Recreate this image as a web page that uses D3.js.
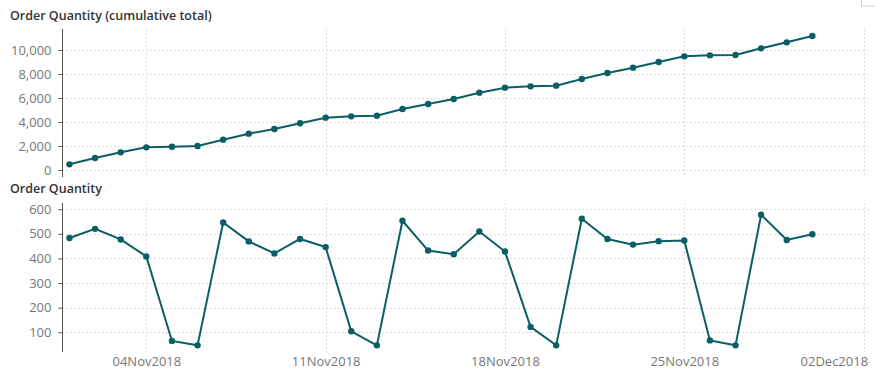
<!DOCTYPE html>
<html>
<head>
<meta charset="utf-8">
<script src="https://cdn.jsdelivr.net/npm/d3@7"></script>
<style>
  body { margin: 0; background: #fff; }
  text { font-family: "Open Sans", "Noto Sans", sans-serif; }
</style>
</head>
<body>
<div id="container"></div>
<script>
/* DATA */
const days = d3.range(1, 31).map(d => new Date(2018, 10, d));
const orderQty = [483, 520, 477, 408, 65, 47, 546, 469, 420, 479,
  446, 104, 47, 553, 432, 417, 509, 428, 122, 47,
  561, 479, 456, 470, 473, 67, 47, 577, 475, 498];
const cumulative = [472, 1000, 1472, 1889, 1944, 2000, 2528, 3028, 3417, 3900,
  4361, 4472, 4528, 5083, 5500, 5917, 6444, 6861, 6972, 7028,
  7583, 8083, 8528, 9000, 9472, 9556, 9583, 10139, 10639, 11167];
const tickDates = [new Date(2018, 10, 4), new Date(2018, 10, 11), new Date(2018, 10, 18),
  new Date(2018, 10, 25), new Date(2018, 11, 2)];
const topTicks = [0, 2000, 4000, 6000, 8000, 10000];
const bottomTicks = [100, 200, 300, 400, 500, 600];

/* CONSTANTS */
const width = 875;
const height = 376;
const left = 62;
const right = 870;
const lineColor = "#0b5e64";

const svg = d3.select("#container").append("svg")
  .attr("width", width)
  .attr("height", height);

const xScale = d3.scaleTime()
  .domain([new Date(2018, 9, 31, 17), new Date(2018, 11, 2, 6)])
  .range([left, right]);

// little box in top-right corner
svg.append("rect")
  .attr("x", 861.5).attr("y", -1).attr("width", 14).attr("height", 7)
  .attr("fill", "none").attr("stroke", "#d0d0d0");

function panel(title, titleY, values, yScale, ticks, top, bottom, showDates) {
  const g = svg.append("g");

  g.append("text")
    .attr("x", 10).attr("y", titleY)
    .attr("fill", "#333")
    .attr("font-size", 12.5)
    .attr("font-weight", 600)
    .text(title);

  // horizontal grid
  g.selectAll("line.hgrid")
    .data(ticks)
    .join("line")
    .attr("class", "hgrid")
    .attr("x1", left).attr("x2", right)
    .attr("y1", d => Math.round(yScale(d)) + 0.5)
    .attr("y2", d => Math.round(yScale(d)) + 0.5)
    .attr("stroke", "#dcdcdc")
    .attr("stroke-dasharray", "2,2");

  // vertical grid
  g.selectAll("line.vgrid")
    .data(tickDates)
    .join("line")
    .attr("class", "vgrid")
    .attr("x1", d => Math.round(xScale(d)) + 0.5)
    .attr("x2", d => Math.round(xScale(d)) + 0.5)
    .attr("y1", top).attr("y2", bottom)
    .attr("stroke", "#dcdcdc")
    .attr("stroke-dasharray", "2,2");

  const yAxis = d3.axisLeft(yScale)
    .tickValues(ticks)
    .tickSize(4)
    .tickPadding(7)
    .tickFormat(d3.format(","));

  const ax = g.append("g")
    .attr("transform", `translate(${left + 0.5},0)`)
    .call(yAxis);
  ax.select(".domain").remove();
  ax.selectAll("line").attr("stroke", "#555");
  ax.selectAll("text")
    .attr("fill", "#777")
    .attr("font-size", 13)
    .style("font-family", "'Open Sans', sans-serif");
  g.append("line")
    .attr("x1", left + 0.5).attr("x2", left + 0.5)
    .attr("y1", top).attr("y2", bottom)
    .attr("stroke", "#555");

  if (showDates) {
    const xAxis = d3.axisBottom(xScale)
      .tickValues(tickDates)
      .tickSize(0)
      .tickPadding(5)
      .tickFormat(d3.timeFormat("%d%b%Y"));
    const xa = g.append("g")
      .attr("transform", `translate(0,${bottom})`)
      .call(xAxis);
    xa.select(".domain").remove();
    xa.selectAll("text")
      .attr("fill", "#777")
      .attr("font-size", 13)
      .style("font-family", "'Open Sans', sans-serif");
    // keep the last label inside the plot
    xa.selectAll(".tick:last-of-type text")
      .attr("text-anchor", "end")
      .attr("x", 4);
  }

  const line = d3.line()
    .x((d, i) => xScale(days[i]))
    .y(d => yScale(d));

  g.append("path")
    .datum(values)
    .attr("d", line)
    .attr("fill", "none")
    .attr("stroke", lineColor)
    .attr("stroke-width", 2);

  g.selectAll("circle")
    .data(values)
    .join("circle")
    .attr("cx", (d, i) => xScale(days[i]))
    .attr("cy", d => yScale(d))
    .attr("r", 3.2)
    .attr("fill", lineColor);
}

const yTop = d3.scaleLinear().domain([-583, 11750]).range([177, 29]);
const yBottom = d3.scaleLinear().domain([20, 625]).range([352, 203]);

panel("Order Quantity (cumulative total)", 20, cumulative, yTop, topTicks, 29, 177, false);
panel("Order Quantity", 193, orderQty, yBottom, bottomTicks, 203, 352, true);
</script>
</body>
</html>
